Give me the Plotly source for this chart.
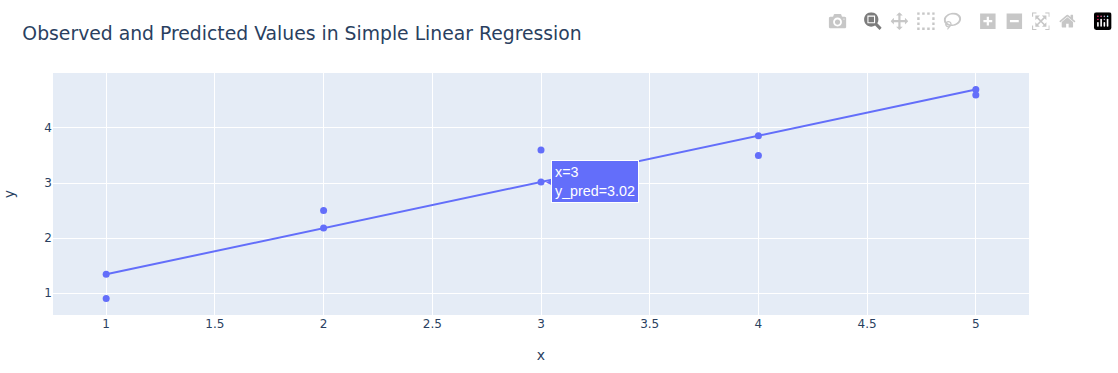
import plotly.graph_objects as go

x_obs = [1, 2, 3, 4, 5]
y_obs = [0.9, 2.5, 3.6, 3.5, 4.6]
x_pred = [1, 2, 3, 4, 5]
y_pred = [1.34, 2.18, 3.02, 3.86, 4.70]

FONT = "Verdana, DejaVu Sans, sans-serif"
HOVER_FONT = "Liberation Sans, Arial, sans-serif"
BLUE = "#636efa"

fig = go.Figure()
fig.add_trace(go.Scatter(x=x_obs, y=y_obs, mode="markers", name="observed",
                         marker=dict(color=BLUE, size=7),
                         hovertemplate="x=%{x}<br>y=%{y}<extra></extra>"))
fig.add_trace(go.Scatter(x=x_pred, y=y_pred, mode="lines+markers", name="predicted",
                         line=dict(color=BLUE), marker=dict(color=BLUE, size=7),
                         hovertemplate="x=%{x}<br>y_pred=%{y}<extra></extra>"))
fig.update_layout(
    title=dict(text="Observed and Predicted Values in Simple Linear Regression",
               x=0.02, y=0.9115, yanchor="middle", font=dict(family=FONT, size=18.8)),
    font=dict(family=FONT, size=12),
    template="plotly",
    width=1118, height=373,
    showlegend=False,
    margin=dict(l=53, r=89, t=73, b=58),
    xaxis=dict(title=dict(text="x", standoff=20), automargin=False),
    yaxis=dict(title=dict(text="y", standoff=26), automargin=False),
    dragmode="zoom",
)
fig.add_annotation(x=3, y=3.02, xanchor="left", yanchor="middle",
                   text="◀", showarrow=False, xshift=3,
                   font=dict(family=FONT, color=BLUE, size=10))
fig.add_annotation(x=3, y=3.02, xanchor="left", yanchor="middle",
                   text="x=3<br>y_pred=3.02", showarrow=False, xshift=10, align="left",
                   bgcolor=BLUE, bordercolor="white", borderwidth=1,
                   font=dict(family=HOVER_FONT, color="white", size=14.3),
                   borderpad=3)
post = """
document.body.style.margin='0';
var s=document.createElement('style');
s.textContent='.modebar{transform:scale(1.105);transform-origin:right top;top:9px !important}'
 + '.modebar-btn--logo .cls-0{fill:#3f4f75 !important}';
document.head.appendChild(s);
"""
fig.write_html("out.html", config=dict(displayModeBar=True), post_script=post)
